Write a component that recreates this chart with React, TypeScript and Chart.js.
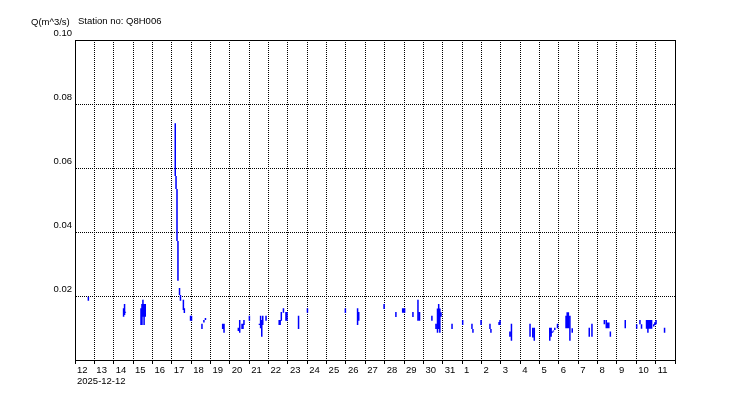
import { useEffect, useRef } from 'react';
import { Chart, registerables } from 'chart.js';

Chart.register(...registerables);

const stationLabel = 'Station no: Q8H006';
const yAxisLabel = 'Q(m^3/s)';
const startDateLabel = '2025-12-12';
const dayLabels = [
  '12', '13', '14', '15', '16', '17', '18', '19', '20', '21', '22', '23', '24', '25', '26', '27', '28', '29', '30', '31',
  '1', '2', '3', '4', '5', '6', '7', '8', '9', '10', '11',
];
const yMax = 0.1;
const yStep = 0.02;

// Each reading burst: position in days since 2025-12-12 00:00, highest and lowest discharge (m^3/s)
const segDay = [
  0.69, 2.51, 2.56, 2.6, 3.41, 3.46, 3.51, 3.57, 3.63,
  5.18, 5.22, 5.27, 5.32, 5.4, 5.45, 5.6, 5.65, 5.97, 6.02,
  6.56, 6.66, 6.74, 7.63, 7.7, 8.44, 8.51, 8.63, 8.68, 8.73,
  9.01, 9.53, 9.59, 9.65, 9.7, 9.87, 10.55, 10.6, 10.66, 10.77, 10.9, 10.95,
  11.55, 12.01, 13.97, 14.6, 14.66, 15.97, 16.58, 16.93, 16.98, 17.03,
  17.46, 17.72, 17.8, 18.44, 18.65, 18.73, 18.79, 18.85, 18.91,
  19.48, 20.03, 20.51, 20.56, 20.98, 21.44, 21.49, 21.91, 21.96, 22.47, 22.55,
  23.51, 23.65, 23.73, 24.53, 24.6, 24.67, 24.72, 24.79, 24.93,
  25.37, 25.43, 25.49, 25.57, 25.69, 26.57, 26.71,
  27.35, 27.45, 27.52, 27.58, 27.66, 28.43,
  29.02, 29.19, 29.27, 29.53, 29.6, 29.66, 29.72, 29.79, 29.9, 29.96, 30.02, 30.46,
];
const segHigh = [
  0.0198, 0.0162, 0.0175, 0.0151, 0.0162, 0.0175, 0.0188, 0.0175, 0.0175,
  0.074, 0.0575, 0.0534, 0.0372, 0.0225, 0.0203, 0.0188, 0.0162, 0.0138, 0.0138,
  0.0113, 0.0125, 0.0131, 0.0113, 0.0113, 0.0101, 0.0125, 0.0113, 0.0113, 0.0125,
  0.0138, 0.0113, 0.0138, 0.0125, 0.0138, 0.0138, 0.0125, 0.0125, 0.015, 0.0162, 0.015, 0.015,
  0.0138, 0.0162, 0.0162, 0.0162, 0.015, 0.0175, 0.015, 0.0162, 0.0162, 0.0162,
  0.015, 0.0188, 0.015, 0.0138, 0.0113, 0.0161, 0.0175, 0.0161, 0.0149,
  0.0113, 0.0125, 0.0113, 0.0097, 0.0125, 0.0113, 0.0097, 0.0119, 0.0125, 0.0089, 0.0113,
  0.0113, 0.0101, 0.0101, 0.0101, 0.0101, 0.0089, 0.0092, 0.0101, 0.0113,
  0.0138, 0.0149, 0.0149, 0.0138, 0.0099, 0.0101, 0.0113,
  0.0125, 0.0125, 0.0117, 0.0117, 0.0089, 0.0125,
  0.0112, 0.0125, 0.0112, 0.0125, 0.0125, 0.0125, 0.0125, 0.0125, 0.0112, 0.0118, 0.0125, 0.0101,
];
const segLow = [
  0.0185, 0.0135, 0.0141, 0.0148, 0.0109, 0.0109, 0.0135, 0.0109, 0.0135,
  0.0575, 0.0534, 0.0372, 0.0248, 0.0203, 0.0185, 0.0156, 0.0147, 0.0123, 0.0123,
  0.0097, 0.0117, 0.0125, 0.0097, 0.0085, 0.0091, 0.0085, 0.0097, 0.0097, 0.0109,
  0.0123, 0.0109, 0.0099, 0.0073, 0.0109, 0.0123, 0.0109, 0.0109, 0.0123, 0.0148, 0.0123, 0.0123,
  0.0097, 0.0148, 0.0147, 0.0109, 0.0123, 0.0159, 0.0134, 0.0148, 0.0148, 0.0148,
  0.0134, 0.0123, 0.0123, 0.0123, 0.0097, 0.0085, 0.0097, 0.0085, 0.0135,
  0.0097, 0.0109, 0.0097, 0.0085, 0.0109, 0.0097, 0.0085, 0.0109, 0.0109, 0.0073, 0.006,
  0.0073, 0.007, 0.006, 0.006, 0.0073, 0.0085, 0.0089, 0.0094, 0.0099,
  0.0099, 0.0099, 0.0099, 0.006, 0.0085, 0.0073, 0.0073,
  0.0112, 0.0099, 0.0099, 0.0099, 0.0073, 0.0099,
  0.0098, 0.0112, 0.0098, 0.0098, 0.0085, 0.0098, 0.0098, 0.0098, 0.0105, 0.0109, 0.0112, 0.0085,
];

const FONT_FAMILY = '"Liberation Sans", Arial, sans-serif';
const FONT_SIZE = 9.5;

const textPlugin = {
  id: 'headerTexts',
  afterDraw(chart: any) {
    const { ctx, chartArea } = chart;
    ctx.save();
    ctx.strokeStyle = '#000';
    ctx.lineWidth = 1;
    ctx.setLineDash([]);
    ctx.strokeRect(chartArea.left + 0.5, chartArea.top + 0.5, chartArea.right - chartArea.left, chartArea.bottom - chartArea.top);
    ctx.fillStyle = '#000';
    ctx.font = `${FONT_SIZE}px ${FONT_FAMILY}`;
    ctx.textBaseline = 'alphabetic';
    ctx.textAlign = 'left';
    ctx.fillText(yAxisLabel, chartArea.left - 44, chartArea.top - 15);
    ctx.fillText(stationLabel, chartArea.left + 3, chartArea.top - 16.5);
    ctx.restore();
  },
};

export default function App() {
  const canvasRef = useRef<HTMLCanvasElement | null>(null);

  useEffect(() => {
    document.body.style.margin = '0';
    const canvas = canvasRef.current;
    if (!canvas) return;

    const points: { x: number; y: number | null }[] = [];
    segDay.forEach((d, i) => {
      points.push({ x: d, y: segHigh[i] });
      points.push({ x: d, y: segLow[i] });
      points.push({ x: d, y: null });
    });

    const chart = new Chart(canvas, {
      type: 'line',
      data: {
        datasets: [
          {
            data: points as any,
            borderColor: '#0000ff',
            borderWidth: 1.5,
            pointRadius: 0,
            spanGaps: false,
            tension: 0,
            fill: false,
          },
        ],
      },
      options: {
        responsive: false,
        animation: false,
        events: [],
        layout: { padding: { left: 0, right: 75, top: 40, bottom: 0 } },
        plugins: {
          legend: { display: false },
          tooltip: { enabled: false },
        },
        scales: {
          x: {
            type: 'linear',
            min: 0,
            max: dayLabels.length,
            afterFit: (s: any) => {
              s.height = 40;
            },
            ticks: {
              stepSize: 1,
              autoSkip: false,
              maxRotation: 0,
              align: 'start',
              labelOffset: 2,
              padding: 1,
              color: '#000',
              font: { family: FONT_FAMILY, size: FONT_SIZE, lineHeight: 1.15 },
              callback: (v: any) => {
                const i = Math.round(Number(v));
                if (i >= dayLabels.length) return '';
                return i === 0 ? [dayLabels[0], startDateLabel] : dayLabels[i];
              },
            },
            grid: {
              color: '#000',
              lineWidth: 1,
              drawTicks: true,
              tickLength: 4,
              tickColor: '#000',
            },
            border: { display: true, color: '#000', width: 1, dash: [1, 1] },
          },
          y: {
            type: 'linear',
            min: 0,
            max: yMax,
            afterFit: (s: any) => {
              s.width = 75;
            },
            ticks: {
              stepSize: yStep,
              labelOffset: -7,
              padding: 3,
              color: '#000',
              font: { family: FONT_FAMILY, size: FONT_SIZE },
              callback: (v: any) => (Math.abs(Number(v)) < 1e-9 ? '' : Number(v).toFixed(2)),
            },
            grid: {
              color: '#000',
              lineWidth: 1,
              drawTicks: false,
            },
            border: { display: true, color: '#000', width: 1, dash: [1, 1] },
          },
        },
      },
      plugins: [textPlugin],
    });

    return () => chart.destroy();
  }, []);

  return (
    <div style={{ width: 750, height: 400 }}>
      <canvas ref={canvasRef} width={750} height={400} style={{ display: 'block' }} />
    </div>
  );
}
